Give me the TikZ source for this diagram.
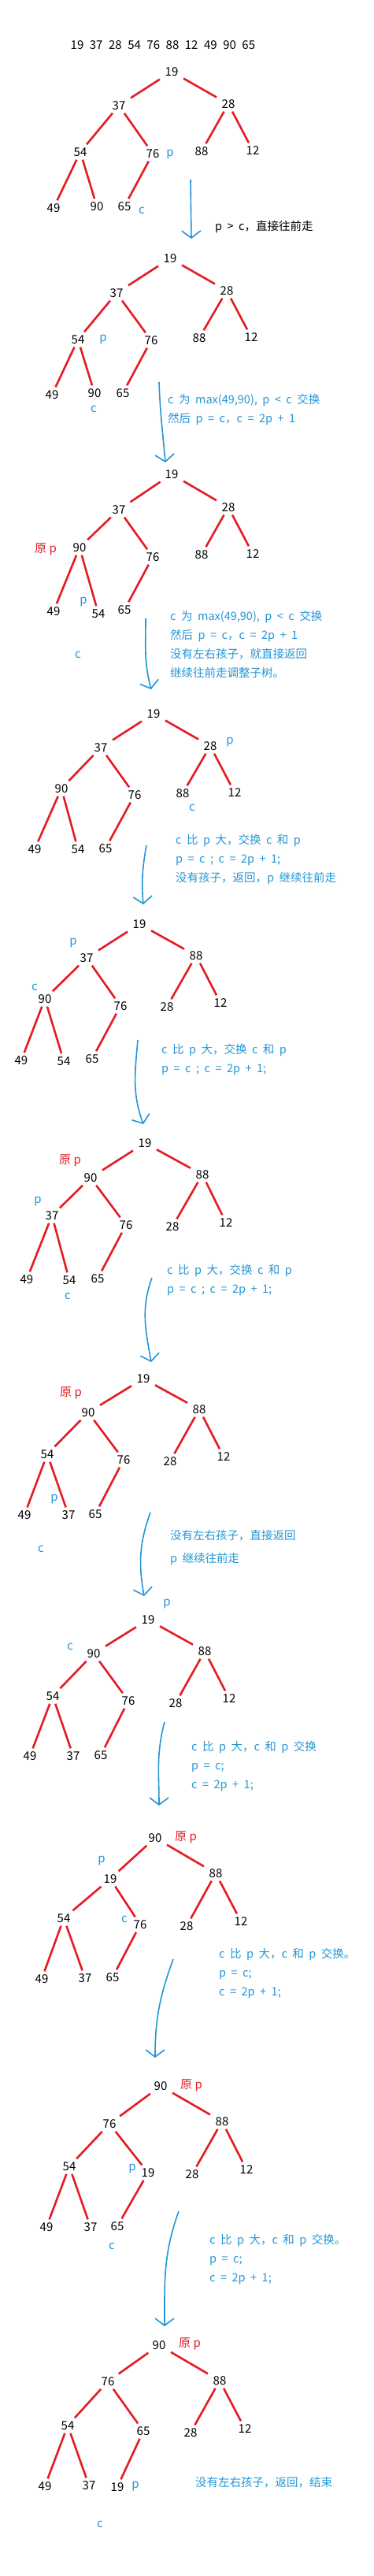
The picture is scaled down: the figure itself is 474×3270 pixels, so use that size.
\documentclass[tikz,border=0pt]{standalone}
\usepackage{fontspec}
\setmainfont{Noto Sans CJK SC}
\newfontfamily\notefont[WordSpace=2]{Noto Sans CJK SC}
\usetikzlibrary{arrows.meta, positioning}

\definecolor{hblue}{RGB}{35,150,215}
\definecolor{hred}{RGB}{228,28,36}

\tikzset{
  num/.style={inner xsep=6.5pt, inner ysep=4pt, text height=11pt, text depth=0pt, font=\fontsize{15}{18}\selectfont},
  ptr/.style={text=hblue, inner sep=0pt, font=\fontsize{15}{18}\selectfont},
  orig/.style={text=hred, inner sep=0pt, font=\fontsize{15}{18}\selectfont},
  note/.style={text=hblue, align=left, anchor=north west, inner sep=0pt, font=\notefont\fontsize{14.5}{24}\selectfont},
  link/.style={draw=hred, line width=2.6pt},
  flow/.style={draw=hblue, line width=1.6pt, -{Straight Barb[length=9pt,width=24pt]}}
}

\begin{document}
\begin{tikzpicture}[x=1pt, y=1pt]
  \useasboundingbox (0,0) rectangle (474,-3270);
  \fill[white] (0,0) rectangle (474,-3270);

  % the array
  \foreach \v [count=\i] in {19,37,28,54,76,88,12,49,90,65}
    \node[num, inner sep=0pt] (r\i) at ({98+24.2*(\i-1)},-57) {\v};

  % tree 1
  \foreach \i/\x/\y/\v in {0/218/91/19,1/151/134/37,2/290/132/28,3/102/193/54,4/194/195/76,5/256/192/88,6/321/191/12,7/68/264/49,8/123/262/90,9/158/262/65}
    \node[num] (a\i) at (\x,-\y) {\v};
  \path[link] (a0) edge (a1) edge (a2) (a1) edge (a3) edge (a4) (a2) edge (a5) edge (a6) (a3) edge (a7) edge (a8) (a4) edge (a9);
  \node[ptr] (ap) at (216,-196) {p};
  \node[ptr] (ac) at (180,-267) {c};

  \coordinate (s1) at (242,-228);
  \coordinate (e1) at (243,-303);
  \draw[flow] (s1) -- (e1);
  \node[note, text=black] (n1) at (273,-280) {p > c，直接往前走};

  % tree 2
  \foreach \i/\x/\y/\v in {0/216/328/19,1/148/372/37,2/288/369/28,3/99/431/54,4/192/432/76,5/253/429/88,6/319/428/12,7/66/501/49,8/120/499/90,9/156/499/65}
    \node[num] (b\i) at (\x,-\y) {\v};
  \path[link] (b0) edge (b1) edge (b2) (b1) edge (b3) edge (b4) (b2) edge (b5) edge (b6) (b3) edge (b7) edge (b8) (b4) edge (b9);
  \node[ptr] (bp) at (131,-431) {p};
  \node[ptr] (bc) at (119,-519) {c};

  \coordinate (s2) at (202,-485);
  \coordinate (e2) at (210,-587);
  \draw[flow] (s2) to[out=-88, in=95] (e2);
  \node[note] (n2) at (213,-500) {c 为 max(49,90), p < c 交换\\然后 p = c，c = 2p + 1};

  % tree 3
  \foreach \i/\x/\y/\v in {0/218/602/19,1/151/647/37,2/290/644/28,3/101/695/90,4/194/707/76,5/256/704/88,6/321/703/12,7/68/776/49,8/125/779/54,9/158/774/65}
    \node[num] (c\i) at (\x,-\y) {\v};
  \path[link] (c0) edge (c1) edge (c2) (c1) edge (c3) edge (c4) (c2) edge (c5) edge (c6) (c3) edge (c7) edge (c8) (c4) edge (c9);
  \node[orig] (co) at (58,-697) {原 p};
  \node[ptr] (cp) at (106,-764) {p};
  \node[ptr] (cc) at (99,-831) {c};

  \coordinate (s3) at (185,-785);
  \coordinate (e3) at (192,-875);
  \draw[flow] (s3) to[out=-90, in=105] (e3);
  \node[note] (n3) at (216,-775) {c 为 max(49,90), p < c 交换\\然后 p = c，c = 2p + 1\\没有左右孩子，就直接返回\\继续往前走调整子树。};

  % tree 4
  \foreach \i/\x/\y/\v in {0/195/906/19,1/128/949/37,2/267/947/28,3/78/1001/90,4/171/1009/76,5/232/1007/88,6/298/1006/12,7/44/1078/49,8/99/1078/54,9/134/1077/65}
    \node[num] (d\i) at (\x,-\y) {\v};
  \path[link] (d0) edge (d1) edge (d2) (d1) edge (d3) edge (d4) (d2) edge (d5) edge (d6) (d3) edge (d7) edge (d8) (d4) edge (d9);
  \node[ptr] (dp) at (292,-942) {p};
  \node[ptr] (dc) at (244,-1025) {c};

  \coordinate (s4) at (186,-1073);
  \coordinate (e4) at (182,-1148);
  \draw[flow] (s4) to[out=-100, in=95] (e4);
  \node[note] (n4) at (223,-1059) {c 比 p 大，交换 c 和 p\\p = c ; c = 2p + 1;\\没有孩子，返回，p 继续往前走};

  % tree 5
  \foreach \i/\x/\y/\v in {0/177/1173/19,1/110/1216/37,2/249/1213/88,3/57/1268/90,4/153/1277/76,5/212/1278/28,6/280/1273/12,7/27/1346/49,8/81/1347/54,9/117/1344/65}
    \node[num] (e\i) at (\x,-\y) {\v};
  \path[link] (e0) edge (e1) edge (e2) (e1) edge (e3) edge (e4) (e2) edge (e5) edge (e6) (e3) edge (e7) edge (e8) (e4) edge (e9);
  \node[ptr] (ep) at (93,-1197) {p};
  \node[ptr] (ec) at (44,-1253) {c};

  \coordinate (s5) at (175,-1320);
  \coordinate (e5) at (182,-1427);
  \draw[flow] (s5) to[out=-95, in=110] (e5);
  \node[note] (n5) at (205,-1325) {c 比 p 大，交换 c 和 p\\p = c ; c = 2p + 1;};

  % tree 6
  \foreach \i/\x/\y/\v in {0/184/1451/19,1/115/1495/90,2/257/1491/88,3/66/1543/37,4/160/1555/76,5/219/1557/28,6/287/1552/12,7/34/1624/49,8/88/1625/54,9/124/1623/65}
    \node[num] (f\i) at (\x,-\y) {\v};
  \path[link] (f0) edge (f1) edge (f2) (f1) edge (f3) edge (f4) (f2) edge (f5) edge (f6) (f3) edge (f7) edge (f8) (f4) edge (f9);
  \node[orig] (fo) at (89,-1473) {原 p};
  \node[ptr] (fp) at (48,-1525) {p};
  \node[ptr] (fc) at (86,-1645) {c};

  \coordinate (s6) at (193,-1622);
  \coordinate (e6) at (192,-1729);
  \draw[flow] (s6) to[out=-110, in=100] (e6);
  \node[note] (n6) at (212,-1605) {c 比 p 大，交换 c 和 p\\p = c ; c = 2p + 1;};

  % tree 7
  \foreach \i/\x/\y/\v in {0/182/1750/19,1/112/1793/90,2/253/1789/88,3/60/1846/54,4/157/1853/76,5/216/1855/28,6/284/1849/12,7/31/1923/49,8/87/1923/37,9/121/1922/65}
    \node[num] (g\i) at (\x,-\y) {\v};
  \path[link] (g0) edge (g1) edge (g2) (g1) edge (g3) edge (g4) (g2) edge (g5) edge (g6) (g3) edge (g7) edge (g8) (g4) edge (g9);
  \node[orig] (go) at (90,-1768) {原 p};
  \node[ptr] (gp) at (69,-1903) {p};
  \node[ptr] (gc) at (52,-1966) {c};

  \coordinate (s7) at (191,-1920);
  \coordinate (e7) at (183,-2026);
  \draw[flow] (s7) to[out=-110, in=100] (e7);
  \node[note] (n7) at (216,-1942) {没有左右孩子，直接返回\\[5pt]p 继续往前走};

  % tree 8
  \foreach \i/\x/\y/\v in {0/188/2056/19,1/119/2099/90,2/260/2096/88,3/67/2153/54,4/163/2159/76,5/223/2162/28,6/291/2156/12,7/38/2229/49,8/93/2229/37,9/128/2228/65}
    \node[num] (h\i) at (\x,-\y) {\v};
  \path[link] (h0) edge (h1) edge (h2) (h1) edge (h3) edge (h4) (h2) edge (h5) edge (h6) (h3) edge (h7) edge (h8) (h4) edge (h9);
  \node[ptr] (hp) at (212,-2036) {p};
  \node[ptr] (hc) at (89,-2090) {c};

  \coordinate (s8) at (209,-2186);
  \coordinate (e8) at (202,-2292);
  \draw[flow] (s8) to[out=-105, in=90] (e8);
  \node[note] (n8) at (243,-2210) {c 比 p 大，c 和 p 交换\\p = c;\\c = 2p + 1;};

  % tree 9
  \foreach \i/\x/\y/\v in {0/197/2333/90,1/140/2385/19,2/274/2378/88,3/81/2435/54,4/178/2443/76,5/237/2445/28,6/306/2439/12,7/53/2512/49,8/108/2511/37,9/143/2510/65}
    \node[num] (i\i) at (\x,-\y) {\v};
  \path[link] (i0) edge (i1) edge (i2) (i1) edge (i3) edge (i4) (i2) edge (i5) edge (i6) (i3) edge (i7) edge (i8) (i4) edge (i9);
  \node[orig] (io) at (236,-2332) {原 p};
  \node[ptr] (ip) at (129,-2362) {p};
  \node[ptr] (ic) at (158,-2436) {c};

  \coordinate (s9) at (220,-2487);
  \coordinate (e9) at (197,-2612);
  \draw[flow] (s9) to[out=-110, in=90] (e9);
  \node[note] (n9) at (278,-2473) {c 比 p 大，c 和 p 交换。\\p = c;\\c = 2p + 1;};

  % tree 10
  \foreach \i/\x/\y/\v in {0/204/2648/90,1/139/2696/76,2/282/2693/88,3/88/2750/54,4/188/2758/19,5/244/2760/28,6/313/2754/12,7/59/2827/49,8/115/2827/37,9/149/2826/65}
    \node[num] (j\i) at (\x,-\y) {\v};
  \path[link] (j0) edge (j1) edge (j2) (j1) edge (j3) edge (j4) (j2) edge (j5) edge (j6) (j3) edge (j7) edge (j8) (j4) edge (j9);
  \node[orig] (jo) at (243,-2647) {原 p};
  \node[ptr] (jp) at (168,-2753) {p};
  \node[ptr] (jc) at (142,-2851) {c};

  \coordinate (s10) at (227,-2807);
  \coordinate (e10) at (209,-2953);
  \draw[flow] (s10) to[out=-110, in=90] (e10);
  \node[note] (n10) at (266,-2836) {c 比 p 大，c 和 p 交换。\\p = c;\\c = 2p + 1;};

  % tree 11
  \foreach \i/\x/\y/\v in {0/202/2977/90,1/137/3023/76,2/279/3022/88,3/86/3079/54,4/182/3086/65,5/242/3088/28,6/311/3083/12,7/57/3156/49,8/113/3155/37,9/149/3157/19}
    \node[num] (k\i) at (\x,-\y) {\v};
  \path[link] (k0) edge (k1) edge (k2) (k1) edge (k3) edge (k4) (k2) edge (k5) edge (k6) (k3) edge (k7) edge (k8) (k4) edge (k9);
  \node[orig] (ko) at (241,-2975) {原 p};
  \node[ptr] (kp) at (172,-3156) {p};
  \node[ptr] (kc) at (127,-3204) {c};

  \node[note] (n11) at (248,-3144) {没有左右孩子，返回，结束};
\end{tikzpicture}
\end{document}
